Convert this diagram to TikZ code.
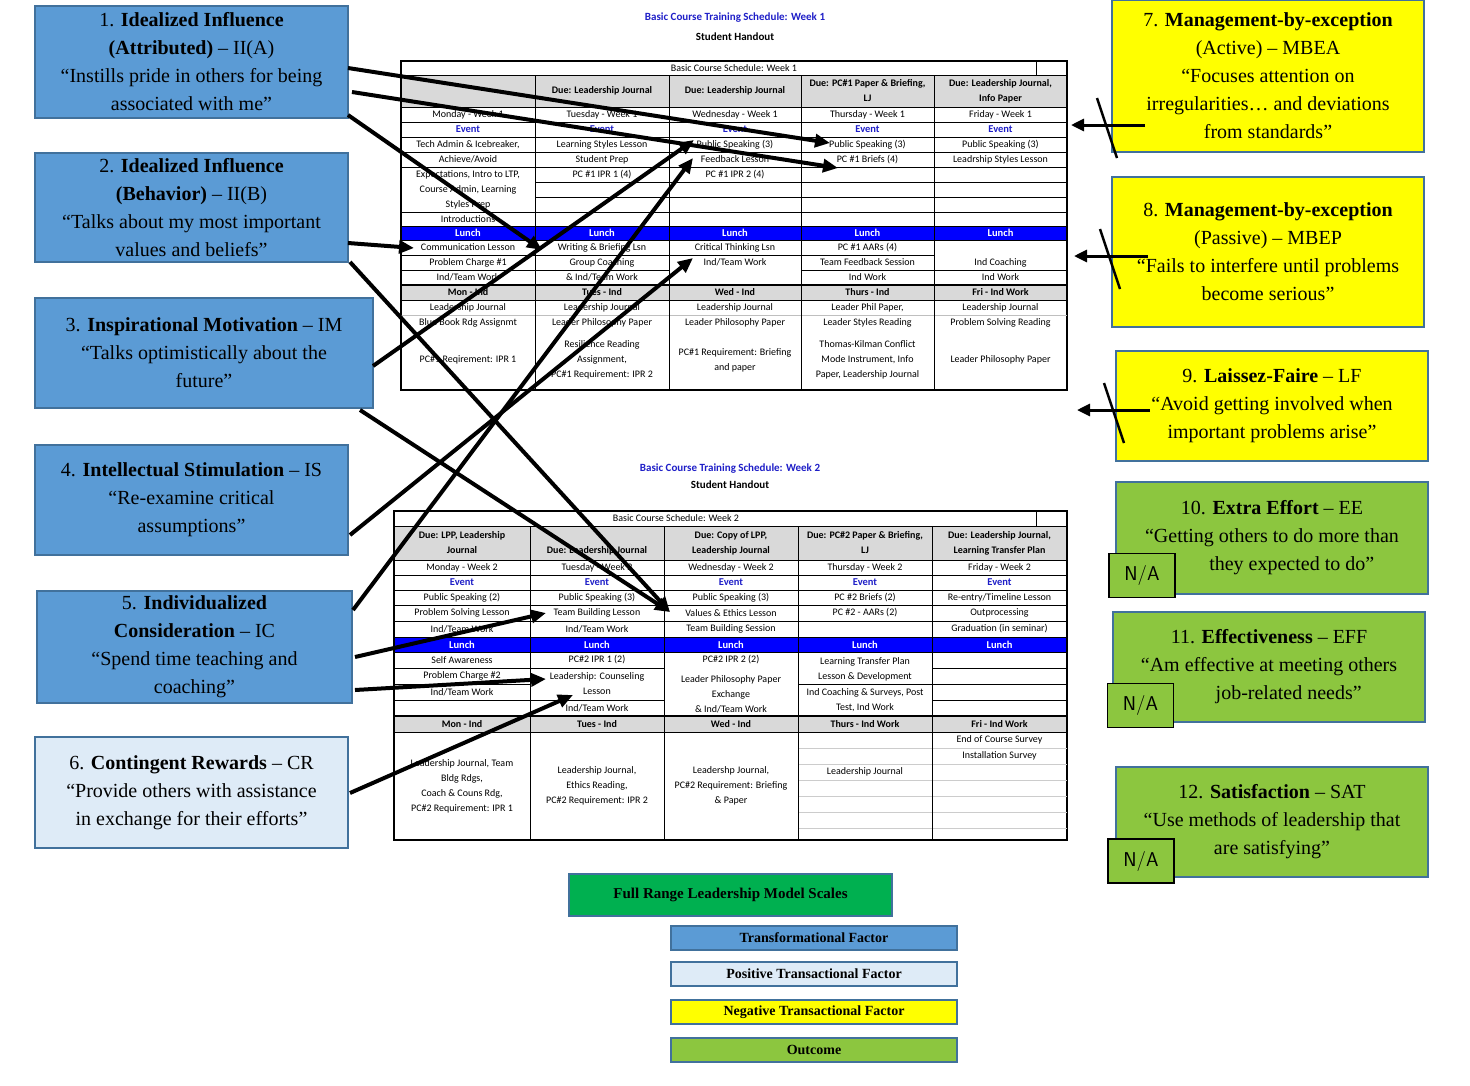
\documentclass[tikz,border=0pt]{standalone}
\usepackage{fontspec}
\setmainfont{Liberation Serif}
\newfontfamily\calib{Carlito}
\usetikzlibrary{arrows.meta}
\definecolor{tblue}{HTML}{5B9BD5}
\definecolor{lblue}{HTML}{DEEBF7}
\definecolor{tyel}{HTML}{FFFF00}
\definecolor{tgreen}{HTML}{8CC63F}
\definecolor{dgreen}{HTML}{00B050}
\definecolor{bord}{HTML}{41719C}
\definecolor{hgray}{HTML}{D9D9D9}
\definecolor{evblue}{HTML}{1F1FC8}
\newcounter{tcn}
\newcommand\tc[3]{\stepcounter{tcn}\node[tcell] (t\number\value{tcn}) at (#1,#2) {#3};}
\newcommand\trowA[6]{\tc{468}{#1}{#2}\tc{602}{#1}{#3}\tc{735}{#1}{#4}\tc{867.5}{#1}{#5}\tc{1000.5}{#1}{#6}}
\newcommand\trowB[6]{\tc{462}{#1}{#2}\tc{597}{#1}{#3}\tc{731}{#1}{#4}\tc{865}{#1}{#5}\tc{999.5}{#1}{#6}}
\begin{document}
\begin{tikzpicture}[x=1pt,y=-1pt,
  tcell/.style={font=\calib\fontsize{10}{15}\selectfont,align=center,inner sep=0pt},
  tbold/.style={tcell,font=\calib\bfseries\fontsize{10}{15}\selectfont},
  evt/.style={tcell,font=\calib\bfseries\fontsize{10.5}{15}\selectfont,text=evblue},
  lun/.style={tcell,font=\calib\bfseries\fontsize{10.5}{15}\selectfont,text=white},
  grid/.style={draw=black,line width=0.8pt},
  fbox/.style={draw=bord,line width=1.6pt,align=center,inner sep=0pt,font=\fontsize{20}{28}\selectfont},
  na/.style={draw=black,line width=1.2pt,fill=tgreen,minimum width=66pt,minimum height=44pt,font=\sffamily\fontsize{20}{24}\selectfont},
  arr/.style={line width=4pt,-{Triangle[length=15pt,width=13pt]}},
  leg/.style={draw=bord,line width=1.4pt,minimum width=286pt,minimum height=24pt,inner sep=0pt,font=\bfseries\fontsize{14}{16}\selectfont}]
\useasboundingbox (0,0) rectangle (1470,1085);
\fill[white] (0,0) rectangle (1470,1085);

% ================= WEEK 1 =================
\node[tcell,font=\calib\bfseries\fontsize{11}{14}\selectfont,text=evblue] (w1t) at (735,18) {Basic Course Training Schedule: Week 1};
\node[tcell,font=\calib\bfseries\fontsize{11}{14}\selectfont] (w1s) at (735,37) {Student Handout};
\fill[hgray] (401,75) rectangle (1067,107);
\fill[hgray] (401,285) rectangle (1067,300);
\fill[blue] (401,226) rectangle (1067,240);
\draw[line width=1.6pt] (401,61) rectangle (1067,390);
\draw[grid] (1036,61) -- (1036,75);
\foreach \y in {75,107,122,137,152,167,212,226,240,300} \draw[grid] (401,\y) -- (1067,\y);
\draw[line width=2pt] (401,285) -- (1067,285);
\foreach \y in {182,197} \draw[grid] (535,\y) -- (1067,\y);
\draw[grid] (401,255) -- (934,255);
\draw[grid] (401,270) -- (669,270);
\draw[grid] (801,270) -- (1067,270);
\draw[gray!50,line width=0.6pt] (401,315) -- (1067,315);
\foreach \x in {535,669,801,934} \draw[grid] (\x,75) -- (\x,390);
\node[tcell] (w1h) at (734,68) {Basic Course Schedule: Week 1};
\tc{602}{91}{\bfseries Due: Leadership Journal}
\tc{735}{91}{\bfseries Due: Leadership Journal}
\tc{867.5}{91}{\bfseries Due: PC\#1 Paper \& Briefing,\\\bfseries LJ}
\tc{1000.5}{91}{\bfseries Due: Leadership Journal,\\\bfseries Info Paper}
\trowA{114.5}{Monday - Week 1}{Tuesday - Week 1}{Wednesday - Week 1}{Thursday - Week 1}{Friday - Week 1}
\foreach \x in {468,602,735,867.5,1000.5} \node[evt] at (\x,129.5) {Event};
\trowA{144.5}{Tech Admin \& Icebreaker,}{Learning Styles Lesson}{Public Speaking (3)}{Public Speaking (3)}{Public Speaking (3)}
\trowA{159.5}{Achieve/Avoid}{Student Prep}{Feedback Lesson}{PC \#1 Briefs (4)}{Leadrship Styles Lesson}
\tc{602}{174.5}{PC \#1 IPR 1 (4)}
\tc{735}{174.5}{PC \#1 IPR 2 (4)}
\tc{468}{189.5}{Expectations, Intro to LTP,\\Course Admin,  Learning\\Styles Prep}
\tc{468}{219}{Introductions}
\foreach \x in {468,602,735,867.5,1000.5} \node[lun] at (\x,233) {Lunch};
\trowA{247.5}{Communication Lesson}{Writing \& Briefing Lsn}{Critical Thinking Lsn}{PC \#1 AARs (4)}{}
\trowA{262.5}{Problem Charge \#1}{Group Coaching}{Ind/Team Work}{Team Feedback Session}{Ind Coaching}
\trowA{277.5}{Ind/Team Work}{\& Ind/Team Work}{}{Ind Work}{Ind Work}
\foreach \x/\t in {468/Mon - Ind/Team Work,602/Tues - Ind/Team Work,735/Wed - Ind/Team Work,867.5/Thurs - Ind/Team Work,1000.5/Fri - Ind Work} \node[tbold] at (\x,292.5) {\t};
\trowA{307.5}{Leadership Journal}{Leadership Journal}{Leadership Journal}{Leader Phil Paper,}{Leadership Journal}
\trowA{322.5}{Blue Book Rdg Assignmt}{Leader Philosophy Paper}{Leader Philosophy Paper}{Leader Styles Reading}{Problem Solving Reading}
\tc{468}{360}{PC\#1 Reqirement: IPR 1}
\tc{602}{360}{Resilience Reading\\Assignment,\\PC\#1 Requirement: IPR 2}
\tc{735}{360}{PC\#1 Requirement:  Briefing\\and paper}
\tc{867.5}{360}{Thomas-Kilman Conflict\\Mode Instrument, Info\\Paper, Leadership Journal}
\tc{1000.5}{360}{Leader Philosophy Paper}

% ================= WEEK 2 =================
\node[tcell,font=\calib\bfseries\fontsize{11}{14}\selectfont,text=evblue] (w2t) at (730,469) {Basic Course Training Schedule: Week 2};
\node[tcell,font=\calib\bfseries\fontsize{11}{14}\selectfont] (w2s) at (730,485) {Student Handout};
\fill[hgray] (394,526) rectangle (1067,560);
\fill[hgray] (394,716) rectangle (1067,732);
\fill[blue] (394,637) rectangle (1067,652);
\draw[line width=1.6pt] (394,511) rectangle (1067,840);
\draw[grid] (1036,511) -- (1036,526);
\foreach \y in {526,560,575,590,605,621,637,652,732} \draw[grid] (394,\y) -- (1067,\y);
\draw[line width=2pt] (394,716) -- (1067,716);
\draw[grid] (394,668) -- (664,668); \draw[grid] (932,668) -- (1067,668);
\draw[grid] (394,684) -- (530,684); \draw[grid] (798,684) -- (1067,684);
\draw[grid] (394,700) -- (664,700); \draw[grid] (932,700) -- (1067,700);
\foreach \y in {748,764,780,796,812,828} \draw[gray!40,line width=0.5pt] (798,\y) -- (1067,\y);
\foreach \x in {530,664,798,932} \draw[grid] (\x,526) -- (\x,840);
\node[tcell] (w2h) at (676,518.5) {Basic Course Schedule: Week 2};
\tc{462}{543}{\bfseries Due: LPP, Leadership\\\bfseries Journal}
\tc{597}{551}{\bfseries Due: Leadership Journal}
\tc{731}{543}{\bfseries Due: Copy of LPP,\\\bfseries Leadership Journal}
\tc{865}{543}{\bfseries Due: PC\#2 Paper \& Briefing,\\\bfseries LJ}
\tc{999.5}{543}{\bfseries Due: Leadership Journal,\\\bfseries Learning Transfer Plan}
\trowB{567.5}{Monday - Week 2}{Tuesday - Week 2}{Wednesday - Week 2}{Thursday - Week 2}{Friday - Week 2}
\foreach \x in {462,597,731,865,999.5} \node[evt] at (\x,582.5) {Event};
\trowB{597.5}{Public Speaking (2)}{Public Speaking (3)}{Public Speaking (3)}{PC \#2 Briefs (2)}{Re-entry/Timeline Lesson}
\trowB{613}{Problem Solving Lesson}{Team Building Lesson}{Values \& Ethics Lesson}{PC \#2 - AARs (2)}{Outprocessing}
\trowB{629}{Ind/Team Work}{Ind/Team Work}{Team Building Session}{}{Graduation (in seminar)}
\foreach \x in {462,597,731,865,999.5} \node[lun] at (\x,644.5) {Lunch};
\trowB{660}{Self Awareness}{PC\#2 IPR 1 (2)}{PC\#2 IPR 2 (2)}{}{}
\tc{865}{669}{Learning Transfer Plan\\Lesson \& Development}
\tc{462}{676}{Problem Charge \#2}
\tc{597}{684}{Leadership:  Counseling\\Lesson}
\tc{731}{694}{Leader Philosophy Paper\\Exchange\\\& Ind/Team Work}
\tc{462}{692}{Ind/Team Work}
\tc{865}{700}{Ind Coaching \& Surveys, Post\\Test, Ind Work}
\tc{597}{708}{Ind/Team Work}
\foreach \x/\t in {462/Mon - Ind/Team Work,597/Tues - Ind/Team Work,731/Wed - Ind/Team Work,865/Thurs - Ind Work,999.5/Fri - Ind Work} \node[tbold] at (\x,724) {\t};
\tc{462}{786}{Leadership Journal,  Team\\Bldg Rdgs,\\Coach \& Couns Rdg,\\PC\#2 Requirement: IPR 1}
\tc{597}{786}{Leadership Journal,\\Ethics Reading,\\PC\#2 Requirement: IPR 2}
\tc{731}{786}{Leadershp Journal,\\PC\#2 Requirement: Briefing\\\& Paper}
\tc{865}{772}{Leadership Journal}
\tc{999.5}{740}{End of Course Survey}
\tc{999.5}{756}{Installation Survey}

% ================= LEFT BOXES =================
\node[fbox,fill=tblue,minimum width=313pt,minimum height=112pt] (b1) at (191.5,62) {1. \textbf{Idealized Influence}\\\textbf{(Attributed)} – II(A)\\“Instills pride in others for being\\associated with me”};
\node[fbox,fill=tblue,minimum width=313pt,minimum height=109pt] (b2) at (191.5,207.5) {2. \textbf{Idealized Influence}\\\textbf{(Behavior)} – II(B)\\“Talks about my most important\\values and beliefs”};
\node[fbox,fill=tblue,minimum width=338pt,minimum height=110pt] (b3) at (204,353) {3. \textbf{Inspirational Motivation} – IM\\“Talks optimistically about the\\future”};
\node[fbox,fill=tblue,minimum width=313pt,minimum height=110pt] (b4) at (191.5,500) {4. \textbf{Intellectual Stimulation} – IS\\“Re-examine critical\\assumptions”};
\node[fbox,fill=tblue,minimum width=315pt,minimum height=112pt] (b5) at (194.5,647) {5. \textbf{Individualized}\\\textbf{Consideration} – IC\\“Spend time teaching and\\coaching”};
\node[fbox,fill=lblue,minimum width=313pt,minimum height=111pt] (b6) at (191.5,792.5) {6. \textbf{Contingent Rewards} – CR\\“Provide others with assistance\\in exchange for their efforts”};

% ================= RIGHT BOXES =================
\node[fbox,fill=tyel,minimum width=312pt,minimum height=152pt] (b7) at (1268,76) {7. \textbf{Management-by-exception}\\(Active) – MBEA\\“Focuses attention on\\irregularities… and deviations\\from standards”};
\node[fbox,fill=tyel,minimum width=312pt,minimum height=150pt] (b8) at (1268,252) {8. \textbf{Management-by-exception}\\(Passive) – MBEP\\“Fails to interfere until problems\\become serious”};
\node[fbox,fill=tyel,minimum width=312pt,minimum height=110pt] (b9) at (1272,406) {9. \textbf{Laissez-Faire} – LF\\“Avoid getting involved when\\important problems arise”};
\node[fbox,fill=tgreen,minimum width=312pt,minimum height=112pt] (b10) at (1272,538) {10. \textbf{Extra Effort} – EE\\“Getting others to do more than\\\hphantom{N/A~}they expected to do”};
\node[fbox,fill=tgreen,minimum width=312pt,minimum height=110pt] (b11) at (1269,667) {11. \textbf{Effectiveness} – EFF\\“Am effective at meeting others\\\hphantom{N/A~}job-related needs”};
\node[fbox,fill=tgreen,minimum width=312pt,minimum height=110pt] (b12) at (1272,822) {12. \textbf{Satisfaction} – SAT\\“Use methods of leadership that\\are satisfying”};
\node[na] (na10) at (1142,575.5) {N/A};
\node[na] (na11) at (1140.5,705.5) {N/A};
\node[na] (na12) at (1141,861) {N/A};

% ================= LEGEND =================
\node[draw=bord,line width=1.4pt,fill=dgreen,minimum width=323pt,minimum height=42pt,inner sep=0pt,font=\bfseries\fontsize{15}{17}\selectfont] (lg0) at (730.5,895) {Full Range Leadership Model Scales};
\node[leg,fill=tblue] (lg1) at (814,938) {Transformational Factor};
\node[leg,fill=lblue] (lg2) at (814,974) {Positive Transactional Factor};
\node[leg,fill=tyel] (lg3) at (814,1012) {Negative Transactional Factor};
\node[leg,fill=tgreen] (lg4) at (814,1050) {Outcome};

% ================= ARROW END POINTS =================
\coordinate (s1a) at (348,68);  \coordinate (e1a) at (830,143);
\coordinate (s1b) at (352,92);  \coordinate (e1b) at (838,168);
\coordinate (s1c) at (348,115); \coordinate (e1c) at (542,250);
\coordinate (s2a) at (348,243); \coordinate (e2a) at (414,248);
\coordinate (s2b) at (350,262); \coordinate (e2b) at (670,612);
\coordinate (s3a) at (373,366); \coordinate (e3a) at (694,140);
\coordinate (s3b) at (360,410); \coordinate (e3b) at (670,612);
\coordinate (s4)  at (350,535); \coordinate (e4)  at (693,258);
\coordinate (s5a) at (353,610); \coordinate (e5a) at (693,158);
\coordinate (s5b) at (355,657); \coordinate (e5b) at (546,613);
\coordinate (s5c) at (355,690); \coordinate (e5c) at (546,679);
\coordinate (s6)  at (350,793); \coordinate (e6)  at (573,695);
\foreach \a in {1a,1b,1c,2a,2b,3a,3b,4,5a,5b,5c,6} \draw[arr] (s\a) -- (e\a);

% crossed arrows
\coordinate (x7s) at (1145,125); \coordinate (x7e) at (1071,125);
\coordinate (x8s) at (1148,256); \coordinate (x8e) at (1074,256);
\coordinate (x9s) at (1150,410); \coordinate (x9e) at (1077,410);
\draw[line width=3pt,-{Triangle[length=13pt,width=12pt]}] (x7s) -- (x7e);
\draw[line width=3pt,-{Triangle[length=13pt,width=12pt]}] (x8s) -- (x8e);
\draw[line width=3pt,-{Triangle[length=13pt,width=12pt]}] (x9s) -- (x9e);
\coordinate (k7a) at (1097,98);  \coordinate (k7b) at (1117,158);
\coordinate (k8a) at (1100,229); \coordinate (k8b) at (1120,289);
\coordinate (k9a) at (1104,383); \coordinate (k9b) at (1124,443);
\draw[line width=2.5pt] (k7a) -- (k7b);
\draw[line width=2.5pt] (k8a) -- (k8b);
\draw[line width=2.5pt] (k9a) -- (k9b);
\end{tikzpicture}
\end{document}
